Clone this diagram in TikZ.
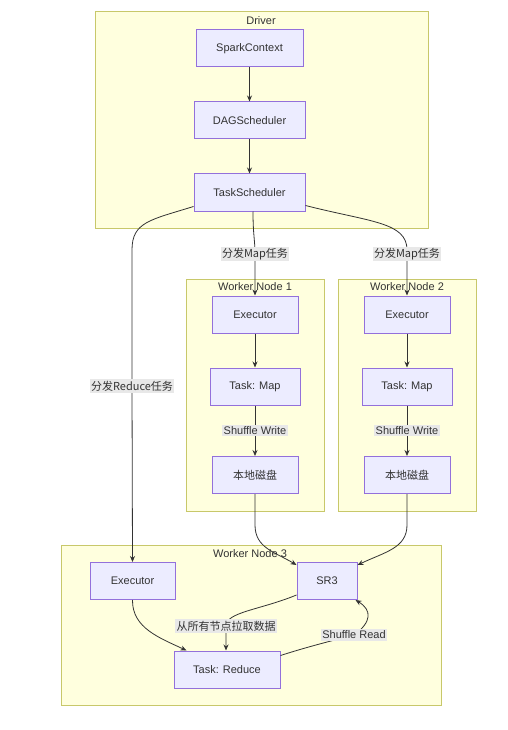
\documentclass[tikz,border=0pt]{standalone}
\usepackage{fontspec}
\setmainfont{Liberation Sans}
\newfontfamily\cjk{Noto Sans CJK SC}
\usetikzlibrary{arrows.meta}
\definecolor{clfill}{HTML}{FFFFDE}
\definecolor{cldraw}{HTML}{C8C86A}
\definecolor{bxfill}{HTML}{ECECFF}
\definecolor{bxdraw}{HTML}{9370DB}
\definecolor{txt}{HTML}{333333}
\definecolor{lblbg}{HTML}{E8E8E8}
\tikzset{
  cluster/.style={draw=cldraw, fill=clfill, line width=1pt, inner sep=0pt},
  cltitle/.style={text=txt, inner sep=0pt},
  box/.style={draw=bxdraw, fill=bxfill, line width=1pt, text=txt, minimum height=37pt, inner sep=0pt},
  edge/.style={draw=txt, line width=0.8pt, -{Stealth[length=6pt,width=5pt]}},
  lbl/.style={fill=lblbg, text=txt, inner sep=1.5pt, font=\fontsize{11}{13}\selectfont\cjk}
}
\begin{document}
\begin{tikzpicture}[x=1pt,y=-1pt, font=\fontsize{11}{13}\selectfont]
\useasboundingbox[fill=white] (0,0) rectangle (508,730);
% clusters
\node[cluster, minimum width=333pt, minimum height=216pt] (driver) at (261.5,120) {};
\node[cltitle] (driverT) at (261,21) {Driver};
\node[cluster, minimum width=138pt, minimum height=232pt] (wn1) at (255,395) {};
\node[cltitle] (wn1T) at (255,287) {Worker Node 1};
\node[cluster, minimum width=138pt, minimum height=232pt] (wn2) at (407,395) {};
\node[cltitle] (wn2T) at (407,287) {Worker Node 2};
\node[cluster, minimum width=380pt, minimum height=160pt] (wn3) at (251,625) {};
\node[cltitle] (wn3T) at (250,554) {Worker Node 3};
% boxes
\node[box, minimum width=107pt] (sc) at (249.5,48.5) {SparkContext};
\node[box, minimum width=111pt] (dag) at (249.5,120.5) {DAGScheduler};
\node[box, minimum width=111pt] (ts) at (249.5,192.5) {TaskScheduler};
\node[box, minimum width=86pt] (ex1) at (255,314.5) {Executor};
\node[box, minimum width=90pt] (tm1) at (255,386.5) {Task: Map};
\node[box, minimum width=86pt] (dk1) at (255,475) {\cjk 本地磁盘};
\node[box, minimum width=86pt] (ex2) at (407,314.5) {Executor};
\node[box, minimum width=90pt] (tm2) at (407,386.5) {Task: Map};
\node[box, minimum width=86pt] (dk2) at (407,475) {\cjk 本地磁盘};
\node[box, minimum width=85pt] (ex3) at (132.5,581) {Executor};
\node[box, minimum width=60pt] (sr3) at (327,581) {SR3};
\node[box, minimum width=106pt] (red) at (227,669.5) {Task: Reduce};
% edges
\draw[edge] (sc) -- (dag);
\draw[edge] (dag) -- (ts);
\draw[edge] ([xshift=3.5pt]ts.south) .. controls (253,235) and (255,240) .. (255,254) node[lbl]{分发Map任务} -- (ex1.north);
\draw[edge] ([yshift=6pt]ts.south east) .. controls (370,222) and (407,222) .. (407,250) -- (407,254) node[lbl]{分发Map任务} -- (ex2.north);
\draw[edge] ([yshift=5pt]ts.south west) .. controls (150,220) and (132,222) .. (132,250) -- (132,386) node[lbl]{分发Reduce任务} -- (ex3.north);
\draw[edge] (ex1) -- (tm1);
\draw[edge] (ex2) -- (tm2);
\draw[edge] (tm1) -- node[lbl, font=\fontsize{11}{13}\selectfont]{Shuffle Write} (dk1);
\draw[edge] (tm2) -- node[lbl, font=\fontsize{11}{13}\selectfont]{Shuffle Write} (dk2);
\draw[edge] (dk1.south) -- (255,525) .. controls (255,548) and (275,552) .. ([yshift=-3pt]sr3.north west);
\draw[edge] (dk2.south) -- (407,525) .. controls (407,548) and (385,552) .. ([yshift=-3pt]sr3.north east);
\draw[edge] (ex3.south) .. controls (132,628) and (160,638) .. ([xshift=13pt]red.north west);
\draw[edge] ([yshift=5pt]sr3.south west) .. controls (260,610) and (226,612) .. (226,626) node[lbl]{从所有节点拉取数据} -- ([xshift=-1pt]red.north);
\draw[edge] ([yshift=-5pt]red.north east) .. controls (310,646) and (335,640) .. (354,635) node[lbl, font=\fontsize{11}{13}\selectfont]{Shuffle Read} .. controls (372,622) and (372,610) .. ([xshift=-2pt]sr3.south east);
\end{tikzpicture}
\end{document}
